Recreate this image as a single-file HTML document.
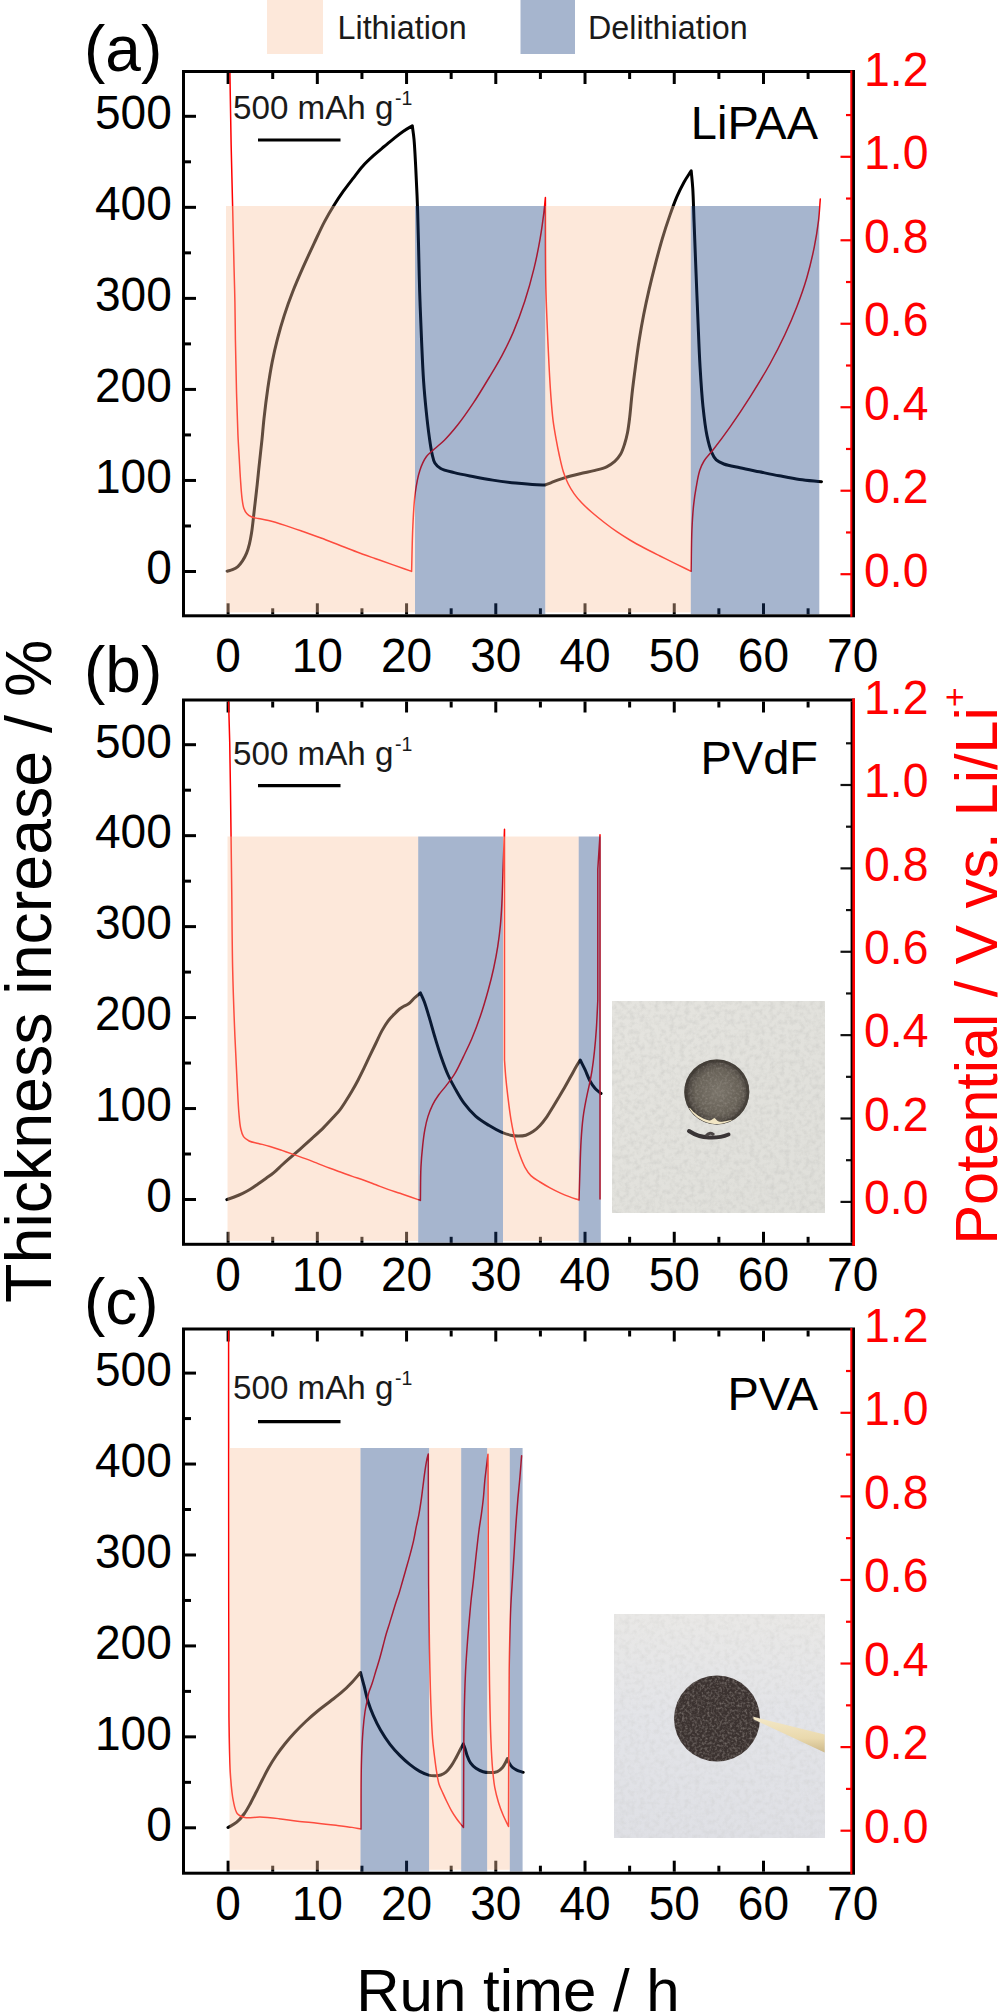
<!DOCTYPE html>
<html><head><meta charset="utf-8"><style>
html,body{margin:0;padding:0;background:#fff;}
svg{display:block;}
text{font-family:"Liberation Sans", sans-serif;}
</style></head><body>
<svg width="1000" height="2014" viewBox="0 0 1000 2014">
<g font-family='"Liberation Sans", sans-serif'>
<rect width="1000" height="2014" fill="#fff"/>
<rect x="267" y="0" width="56" height="54" fill="rgb(250,195,160)" fill-opacity="0.39"/>
<rect x="520.5" y="0" width="54.5" height="54" fill="rgb(26,64,128)" fill-opacity="0.39"/>
<text x="337.5" y="38.7" font-size="32.3" fill="#1a1a1a" text-anchor="start" >Lithiation</text>
<text x="588" y="38.7" font-size="32.3" fill="#1a1a1a" text-anchor="start" >Delithiation</text>
<g id="panel-a">
<line x1="228.1" y1="614.3" x2="228.1" y2="603.3" stroke="#000" stroke-width="3" stroke-linecap="butt"/>
<line x1="228.1" y1="73" x2="228.1" y2="84" stroke="#000" stroke-width="3" stroke-linecap="butt"/>
<line x1="272.71" y1="614.3" x2="272.71" y2="608.3" stroke="#000" stroke-width="3" stroke-linecap="butt"/>
<line x1="272.71" y1="73" x2="272.71" y2="79" stroke="#000" stroke-width="3" stroke-linecap="butt"/>
<line x1="317.33" y1="614.3" x2="317.33" y2="603.3" stroke="#000" stroke-width="3" stroke-linecap="butt"/>
<line x1="317.33" y1="73" x2="317.33" y2="84" stroke="#000" stroke-width="3" stroke-linecap="butt"/>
<line x1="361.94" y1="614.3" x2="361.94" y2="608.3" stroke="#000" stroke-width="3" stroke-linecap="butt"/>
<line x1="361.94" y1="73" x2="361.94" y2="79" stroke="#000" stroke-width="3" stroke-linecap="butt"/>
<line x1="406.56" y1="614.3" x2="406.56" y2="603.3" stroke="#000" stroke-width="3" stroke-linecap="butt"/>
<line x1="406.56" y1="73" x2="406.56" y2="84" stroke="#000" stroke-width="3" stroke-linecap="butt"/>
<line x1="451.17" y1="614.3" x2="451.17" y2="608.3" stroke="#000" stroke-width="3" stroke-linecap="butt"/>
<line x1="451.17" y1="73" x2="451.17" y2="79" stroke="#000" stroke-width="3" stroke-linecap="butt"/>
<line x1="495.79" y1="614.3" x2="495.79" y2="603.3" stroke="#000" stroke-width="3" stroke-linecap="butt"/>
<line x1="495.79" y1="73" x2="495.79" y2="84" stroke="#000" stroke-width="3" stroke-linecap="butt"/>
<line x1="540.4" y1="614.3" x2="540.4" y2="608.3" stroke="#000" stroke-width="3" stroke-linecap="butt"/>
<line x1="540.4" y1="73" x2="540.4" y2="79" stroke="#000" stroke-width="3" stroke-linecap="butt"/>
<line x1="585.02" y1="614.3" x2="585.02" y2="603.3" stroke="#000" stroke-width="3" stroke-linecap="butt"/>
<line x1="585.02" y1="73" x2="585.02" y2="84" stroke="#000" stroke-width="3" stroke-linecap="butt"/>
<line x1="629.63" y1="614.3" x2="629.63" y2="608.3" stroke="#000" stroke-width="3" stroke-linecap="butt"/>
<line x1="629.63" y1="73" x2="629.63" y2="79" stroke="#000" stroke-width="3" stroke-linecap="butt"/>
<line x1="674.25" y1="614.3" x2="674.25" y2="603.3" stroke="#000" stroke-width="3" stroke-linecap="butt"/>
<line x1="674.25" y1="73" x2="674.25" y2="84" stroke="#000" stroke-width="3" stroke-linecap="butt"/>
<line x1="718.87" y1="614.3" x2="718.87" y2="608.3" stroke="#000" stroke-width="3" stroke-linecap="butt"/>
<line x1="718.87" y1="73" x2="718.87" y2="79" stroke="#000" stroke-width="3" stroke-linecap="butt"/>
<line x1="763.48" y1="614.3" x2="763.48" y2="603.3" stroke="#000" stroke-width="3" stroke-linecap="butt"/>
<line x1="763.48" y1="73" x2="763.48" y2="84" stroke="#000" stroke-width="3" stroke-linecap="butt"/>
<line x1="808.1" y1="614.3" x2="808.1" y2="608.3" stroke="#000" stroke-width="3" stroke-linecap="butt"/>
<line x1="808.1" y1="73" x2="808.1" y2="79" stroke="#000" stroke-width="3" stroke-linecap="butt"/>
<line x1="185" y1="571.5" x2="196" y2="571.5" stroke="#000" stroke-width="3" stroke-linecap="butt"/>
<line x1="185" y1="525.98" x2="191" y2="525.98" stroke="#000" stroke-width="3" stroke-linecap="butt"/>
<line x1="185" y1="480.46" x2="196" y2="480.46" stroke="#000" stroke-width="3" stroke-linecap="butt"/>
<line x1="185" y1="434.94" x2="191" y2="434.94" stroke="#000" stroke-width="3" stroke-linecap="butt"/>
<line x1="185" y1="389.42" x2="196" y2="389.42" stroke="#000" stroke-width="3" stroke-linecap="butt"/>
<line x1="185" y1="343.9" x2="191" y2="343.9" stroke="#000" stroke-width="3" stroke-linecap="butt"/>
<line x1="185" y1="298.38" x2="196" y2="298.38" stroke="#000" stroke-width="3" stroke-linecap="butt"/>
<line x1="185" y1="252.86" x2="191" y2="252.86" stroke="#000" stroke-width="3" stroke-linecap="butt"/>
<line x1="185" y1="207.34" x2="196" y2="207.34" stroke="#000" stroke-width="3" stroke-linecap="butt"/>
<line x1="185" y1="161.82" x2="191" y2="161.82" stroke="#000" stroke-width="3" stroke-linecap="butt"/>
<line x1="185" y1="116.3" x2="196" y2="116.3" stroke="#000" stroke-width="3" stroke-linecap="butt"/>
<line x1="851.5" y1="574.2" x2="840.5" y2="574.2" stroke="#ff0000" stroke-width="2.2" stroke-linecap="butt"/>
<line x1="851.5" y1="532.46" x2="846" y2="532.46" stroke="#ff0000" stroke-width="2.2" stroke-linecap="butt"/>
<line x1="851.5" y1="490.72" x2="840.5" y2="490.72" stroke="#ff0000" stroke-width="2.2" stroke-linecap="butt"/>
<line x1="851.5" y1="448.98" x2="846" y2="448.98" stroke="#ff0000" stroke-width="2.2" stroke-linecap="butt"/>
<line x1="851.5" y1="407.24" x2="840.5" y2="407.24" stroke="#ff0000" stroke-width="2.2" stroke-linecap="butt"/>
<line x1="851.5" y1="365.5" x2="846" y2="365.5" stroke="#ff0000" stroke-width="2.2" stroke-linecap="butt"/>
<line x1="851.5" y1="323.76" x2="840.5" y2="323.76" stroke="#ff0000" stroke-width="2.2" stroke-linecap="butt"/>
<line x1="851.5" y1="282.02" x2="846" y2="282.02" stroke="#ff0000" stroke-width="2.2" stroke-linecap="butt"/>
<line x1="851.5" y1="240.28" x2="840.5" y2="240.28" stroke="#ff0000" stroke-width="2.2" stroke-linecap="butt"/>
<line x1="851.5" y1="198.54" x2="846" y2="198.54" stroke="#ff0000" stroke-width="2.2" stroke-linecap="butt"/>
<line x1="851.5" y1="156.8" x2="840.5" y2="156.8" stroke="#ff0000" stroke-width="2.2" stroke-linecap="butt"/>
<line x1="851.5" y1="115.06" x2="846" y2="115.06" stroke="#ff0000" stroke-width="2.2" stroke-linecap="butt"/>
<path d="M227.2,571.2 C228.96,570.71 230.75,570.45 232.47,569.72 C234.31,568.94 236.23,567.97 237.86,566.57 C239.66,565.03 241.23,562.82 242.66,560.66 C244.16,558.38 245.48,555.87 246.59,553.18 C247.78,550.3 248.65,547.11 249.46,543.86 C250.32,540.41 250.93,536.81 251.53,533.04 C252.18,528.97 252.65,524.48 253.15,520.28 C253.63,516.19 254.05,512.15 254.5,508.17 C254.94,504.32 255.37,500.69 255.82,496.79 C256.29,492.68 256.76,488.55 257.24,484.13 C257.75,479.3 258.27,473.98 258.8,468.94 C259.32,463.95 259.86,458.97 260.4,454.06 C260.93,449.23 261.44,444.95 261.98,439.71 C262.64,433.34 263.14,426.21 263.99,418.55 C265,409.4 266.37,398.17 267.78,388.49 C269.11,379.39 270.49,370.57 272.16,362.09 C273.72,354.14 275.41,346.78 277.4,339.1 C279.42,331.28 281.67,323.42 284.2,315.6 C286.76,307.65 289.61,299.71 292.7,291.8 C295.84,283.75 299.35,275.75 302.9,267.7 C306.51,259.52 310.48,251.01 314.2,243.09 C317.69,235.67 321.04,228.2 324.54,221.59 C327.66,215.71 330.77,210.47 334.02,205.26 C337.11,200.29 340.28,195.57 343.54,190.98 C346.71,186.52 350.06,182.26 353.3,178.06 C356.44,173.99 359.31,169.92 362.69,166.16 C366.1,162.37 370.02,158.79 373.7,155.44 C377.19,152.26 380.74,149.4 384.2,146.5 C387.54,143.7 390.86,140.88 394.1,138.3 C397.14,135.88 399.99,133.55 403.06,131.44 C406.06,129.39 409.22,127.68 412.3,125.8 L412.3,125.8 C412.87,130.22 413.5,133.81 414,139.07 C414.73,146.77 415.2,157.41 415.74,167.56 C416.35,179.19 416.96,192.36 417.42,205.03 C417.9,218.05 418.16,230.87 418.52,244.66 C418.91,259.72 419.18,276.21 419.68,291.92 C420.17,307.54 420.81,323.49 421.48,338.67 C422.12,353.08 422.68,367.83 423.57,380.81 C424.34,391.96 425.3,402.16 426.3,411.9 C427.19,420.55 428.15,428.94 429.2,436.37 C430.08,442.62 430.89,448.75 432.01,453.59 C432.85,457.22 433.28,460.41 434.85,462.96 C436.27,465.26 438.1,466.98 440.67,468.47 C444.08,470.46 449.34,471.34 454.24,472.6 C459.9,474.05 466.42,475.25 472.72,476.48 C479.26,477.77 485.85,479.07 492.76,480.14 C500.13,481.28 508.16,482.26 515.65,483.04 C522.85,483.8 531.47,484.53 536.88,484.81 C540.22,484.99 542.29,484.94 545,485 L545,485 C547.11,484.18 548.83,483.47 551.32,482.53 C554.86,481.21 559.72,479.3 564.28,477.88 C569.24,476.34 574.79,475 580,473.74 C585.09,472.51 590.48,471.65 595.16,470.4 C599.28,469.3 603.24,468.39 606.64,466.78 C609.7,465.33 612.44,463.57 614.78,461.46 C617.05,459.41 618.93,457.09 620.52,454.36 C622.28,451.35 623.45,447.58 624.61,444 C625.8,440.31 626.71,436.61 627.53,432.52 C628.44,427.92 628.98,423.23 629.65,417.69 C630.51,410.68 631.12,402.01 632.04,393.83 C633.02,385.14 634.21,375.93 635.4,367 C636.58,358.09 637.76,349.1 639.16,340.31 C640.52,331.7 642,323.26 643.66,314.8 C645.31,306.36 647.12,298.01 649.06,289.6 C651.02,281.11 653.14,272.59 655.36,264.08 C657.59,255.51 659.94,246.58 662.4,238.34 C664.7,230.64 667.12,223.22 669.6,216.12 C671.93,209.46 674.25,202.86 676.8,196.94 C679.08,191.66 681.47,186.76 684,182.23 C686.3,178.11 688.8,174.61 691.2,170.8 L691.2,170.8 C691.73,176.73 692.34,181.71 692.78,188.59 C693.38,198.04 693.6,210.14 694.08,222.31 C694.63,236.68 695.27,253.43 695.9,269.32 C696.55,285.65 697.2,302.58 697.9,318.98 C698.59,335.09 699.15,351.66 700.06,366.87 C700.88,380.72 701.71,394.37 702.99,406.55 C704.09,417.01 705.25,427.3 706.97,435.6 C708.3,442 709.76,447.94 711.66,452.34 C713.02,455.48 714.2,458.01 716.26,459.96 C718.28,461.87 720.75,462.82 723.84,463.99 C728.12,465.61 734.3,466.57 739.93,467.82 C746.11,469.18 752.89,470.48 759.42,471.8 C766.01,473.14 772.62,474.53 779.28,475.8 C786,477.08 792.65,478.46 799.56,479.43 C806.71,480.44 814.19,480.94 821.5,481.7" fill="none" stroke="#000" stroke-width="3" stroke-linejoin="round" stroke-linecap="round" />
<path d="M229.9,72 C230.31,96.04 230.64,120.63 231.12,144.12 C231.58,166.57 232.21,188.77 232.71,209.97 C233.18,229.75 233.63,250.57 234.03,267.35 C234.35,280.45 234.69,290.51 234.91,302.34 C235.15,314.52 235.24,327.05 235.4,339.4 L235.4,339.4 C235.79,357.53 236.11,376.91 236.57,393.8 C236.97,408.51 237.43,423.44 237.95,435.1 C238.33,443.67 238.78,450 239.2,457.4 C239.62,464.73 239.98,472.29 240.47,479.3 C240.92,485.79 241.31,492.77 242,498.04 C242.51,501.94 242.85,505.36 243.83,508.13 C244.58,510.28 245.46,512.04 246.75,513.5 C247.98,514.9 249.53,515.96 251.31,516.79 C253.32,517.72 255.75,517.98 258.31,518.55 C261.4,519.23 264.78,519.61 268.57,520.54 C273.43,521.72 279.42,523.59 285,525.36 C290.88,527.22 297.01,529.4 303,531.5 C309.01,533.6 315.02,535.71 321,537.96 C327.02,540.21 333,542.65 339,545 C345,547.35 350.98,549.79 357,552.04 C362.98,554.29 368.99,556.37 375,558.5 C381.02,560.64 387.04,562.71 393.11,564.85 C399.24,567.01 405.44,569.22 411.6,571.4 L411.6,571.4 C412.02,556.25 412.17,539.86 412.86,525.96 C413.44,514.16 413.84,503.15 415.19,493.26 C416.33,484.92 417.65,476.95 419.85,470.4 C421.63,465.08 423.76,460.27 426.46,456.55 C428.73,453.41 431.53,451.62 434.35,449.05 C437.47,446.2 440.93,443.72 444.38,440.25 C448.63,436 453.17,430.71 457.62,425.09 C462.72,418.62 467.99,411.08 473.07,403.45 C478.51,395.28 484.18,385.8 489.17,377.5 C493.69,369.97 497.81,363.29 501.8,355.8 C505.9,348.09 509.75,340.41 513.4,331.87 C517.42,322.46 521.27,311.99 524.67,301.6 C528.17,290.87 531.39,279.26 534.02,268.43 C536.5,258.22 538.49,248.08 540.17,238.4 C541.72,229.44 542.98,219.87 543.89,212.39 C544.58,206.75 544.9,202.46 545.4,197.5 L545.4,197.5 C545.56,227.34 545.31,259.95 545.89,287.01 C546.38,309.49 547.32,329.46 548.22,348.7 C549.01,365.63 549.92,383.22 550.89,396.41 C551.58,405.76 552.13,412.94 553.06,420.37 C553.88,426.89 554.93,432.68 556,438.64 C557.03,444.38 558.11,449.94 559.34,455.48 C560.56,460.95 561.75,466.73 563.34,471.68 C564.74,476.04 566.29,479.97 568.14,483.72 C569.88,487.25 571.78,490.43 574.02,493.6 C576.34,496.88 579.01,500.01 581.88,503.06 C584.89,506.25 588.24,509.2 591.76,512.28 C595.57,515.6 599.84,519.03 604,522.26 C608.18,525.51 612.46,528.75 616.8,531.72 C621.08,534.65 625.38,537.33 629.88,540 C634.53,542.76 639.35,545.38 644.28,548 C649.38,550.71 654.74,553.36 660,556 C665.26,558.65 670.61,561.3 675.84,563.88 C680.97,566.4 686.01,568.83 691.1,571.3 L691.1,571.3 C691.38,557.43 691.39,541.84 691.93,529.68 C692.35,520.18 692.86,512 693.69,504.32 C694.38,497.88 695.24,492.4 696.28,486.64 C697.29,481.07 698.28,474.88 699.79,470.29 C700.95,466.76 701.98,464.32 703.88,461.24 C706.22,457.44 709.8,454.12 713.34,449.55 C718.16,443.32 724.28,435.17 729.97,427.09 C736.4,417.93 743.31,407.61 749.83,397.33 C756.64,386.61 763.89,374.85 769.92,364 C775.45,354.04 780.3,344.49 784.85,334.8 C789.21,325.5 793.12,316.43 796.75,307.02 C800.39,297.57 803.77,288.1 806.67,278.23 C809.65,268.08 812.28,256.93 814.3,246.9 C816.14,237.78 817.52,228.94 818.53,220.57 C819.44,213.02 819.71,206.13 820.3,198.9" fill="none" stroke="#ff0000" stroke-width="1.5" stroke-linejoin="round" stroke-linecap="round" />
<rect x="226" y="206" width="189" height="406.4" fill="rgb(250,195,160)" fill-opacity="0.39"/>
<rect x="415" y="206" width="130.3" height="408.2" fill="rgb(26,64,128)" fill-opacity="0.39"/>
<rect x="545.3" y="206" width="145.5" height="406.4" fill="rgb(250,195,160)" fill-opacity="0.39"/>
<rect x="690.8" y="206" width="128.5" height="408.2" fill="rgb(26,64,128)" fill-opacity="0.39"/>
<rect x="183.5" y="71.5" width="670" height="544.3" fill="none" stroke="#000" stroke-width="3"/>
<line x1="851.3" y1="70.5" x2="851.3" y2="616.8" stroke="#ff0000" stroke-width="2" stroke-linecap="butt"/>
<text transform="translate(171.8,584.3) scale(0.97,1)" font-size="47.5" fill="#000" text-anchor="end" >0</text>
<text transform="translate(171.8,493.26) scale(0.97,1)" font-size="47.5" fill="#000" text-anchor="end" >100</text>
<text transform="translate(171.8,402.22) scale(0.97,1)" font-size="47.5" fill="#000" text-anchor="end" >200</text>
<text transform="translate(171.8,311.18) scale(0.97,1)" font-size="47.5" fill="#000" text-anchor="end" >300</text>
<text transform="translate(171.8,220.14) scale(0.97,1)" font-size="47.5" fill="#000" text-anchor="end" >400</text>
<text transform="translate(171.8,129.1) scale(0.97,1)" font-size="47.5" fill="#000" text-anchor="end" >500</text>
<text transform="translate(228.1,672) scale(0.97,1)" font-size="47.5" fill="#000" text-anchor="middle" >0</text>
<text transform="translate(317.33,672) scale(0.97,1)" font-size="47.5" fill="#000" text-anchor="middle" >10</text>
<text transform="translate(406.56,672) scale(0.97,1)" font-size="47.5" fill="#000" text-anchor="middle" >20</text>
<text transform="translate(495.79,672) scale(0.97,1)" font-size="47.5" fill="#000" text-anchor="middle" >30</text>
<text transform="translate(585.02,672) scale(0.97,1)" font-size="47.5" fill="#000" text-anchor="middle" >40</text>
<text transform="translate(674.25,672) scale(0.97,1)" font-size="47.5" fill="#000" text-anchor="middle" >50</text>
<text transform="translate(763.48,672) scale(0.97,1)" font-size="47.5" fill="#000" text-anchor="middle" >60</text>
<text transform="translate(852.71,672) scale(0.97,1)" font-size="47.5" fill="#000" text-anchor="middle" >70</text>
<text transform="translate(864,586.5) scale(0.955,1)" font-size="48.6" fill="#ff0000" text-anchor="start" >0.0</text>
<text transform="translate(864,503.02) scale(0.955,1)" font-size="48.6" fill="#ff0000" text-anchor="start" >0.2</text>
<text transform="translate(864,419.54) scale(0.955,1)" font-size="48.6" fill="#ff0000" text-anchor="start" >0.4</text>
<text transform="translate(864,336.06) scale(0.955,1)" font-size="48.6" fill="#ff0000" text-anchor="start" >0.6</text>
<text transform="translate(864,252.58) scale(0.955,1)" font-size="48.6" fill="#ff0000" text-anchor="start" >0.8</text>
<text transform="translate(864,169.1) scale(0.955,1)" font-size="48.6" fill="#ff0000" text-anchor="start" >1.0</text>
<text transform="translate(864,85.62) scale(0.955,1)" font-size="48.6" fill="#ff0000" text-anchor="start" >1.2</text>
<text x="84" y="71" font-size="64" fill="#000" text-anchor="start" >(a)</text>
</g>
<g id="panel-b">
<line x1="228.1" y1="1242.8" x2="228.1" y2="1231.8" stroke="#000" stroke-width="3" stroke-linecap="butt"/>
<line x1="228.1" y1="701.5" x2="228.1" y2="712.5" stroke="#000" stroke-width="3" stroke-linecap="butt"/>
<line x1="272.71" y1="1242.8" x2="272.71" y2="1236.8" stroke="#000" stroke-width="3" stroke-linecap="butt"/>
<line x1="272.71" y1="701.5" x2="272.71" y2="707.5" stroke="#000" stroke-width="3" stroke-linecap="butt"/>
<line x1="317.33" y1="1242.8" x2="317.33" y2="1231.8" stroke="#000" stroke-width="3" stroke-linecap="butt"/>
<line x1="317.33" y1="701.5" x2="317.33" y2="712.5" stroke="#000" stroke-width="3" stroke-linecap="butt"/>
<line x1="361.94" y1="1242.8" x2="361.94" y2="1236.8" stroke="#000" stroke-width="3" stroke-linecap="butt"/>
<line x1="361.94" y1="701.5" x2="361.94" y2="707.5" stroke="#000" stroke-width="3" stroke-linecap="butt"/>
<line x1="406.56" y1="1242.8" x2="406.56" y2="1231.8" stroke="#000" stroke-width="3" stroke-linecap="butt"/>
<line x1="406.56" y1="701.5" x2="406.56" y2="712.5" stroke="#000" stroke-width="3" stroke-linecap="butt"/>
<line x1="451.17" y1="1242.8" x2="451.17" y2="1236.8" stroke="#000" stroke-width="3" stroke-linecap="butt"/>
<line x1="451.17" y1="701.5" x2="451.17" y2="707.5" stroke="#000" stroke-width="3" stroke-linecap="butt"/>
<line x1="495.79" y1="1242.8" x2="495.79" y2="1231.8" stroke="#000" stroke-width="3" stroke-linecap="butt"/>
<line x1="495.79" y1="701.5" x2="495.79" y2="712.5" stroke="#000" stroke-width="3" stroke-linecap="butt"/>
<line x1="540.4" y1="1242.8" x2="540.4" y2="1236.8" stroke="#000" stroke-width="3" stroke-linecap="butt"/>
<line x1="540.4" y1="701.5" x2="540.4" y2="707.5" stroke="#000" stroke-width="3" stroke-linecap="butt"/>
<line x1="585.02" y1="1242.8" x2="585.02" y2="1231.8" stroke="#000" stroke-width="3" stroke-linecap="butt"/>
<line x1="585.02" y1="701.5" x2="585.02" y2="712.5" stroke="#000" stroke-width="3" stroke-linecap="butt"/>
<line x1="629.63" y1="1242.8" x2="629.63" y2="1236.8" stroke="#000" stroke-width="3" stroke-linecap="butt"/>
<line x1="629.63" y1="701.5" x2="629.63" y2="707.5" stroke="#000" stroke-width="3" stroke-linecap="butt"/>
<line x1="674.25" y1="1242.8" x2="674.25" y2="1231.8" stroke="#000" stroke-width="3" stroke-linecap="butt"/>
<line x1="674.25" y1="701.5" x2="674.25" y2="712.5" stroke="#000" stroke-width="3" stroke-linecap="butt"/>
<line x1="718.87" y1="1242.8" x2="718.87" y2="1236.8" stroke="#000" stroke-width="3" stroke-linecap="butt"/>
<line x1="718.87" y1="701.5" x2="718.87" y2="707.5" stroke="#000" stroke-width="3" stroke-linecap="butt"/>
<line x1="763.48" y1="1242.8" x2="763.48" y2="1231.8" stroke="#000" stroke-width="3" stroke-linecap="butt"/>
<line x1="763.48" y1="701.5" x2="763.48" y2="712.5" stroke="#000" stroke-width="3" stroke-linecap="butt"/>
<line x1="808.1" y1="1242.8" x2="808.1" y2="1236.8" stroke="#000" stroke-width="3" stroke-linecap="butt"/>
<line x1="808.1" y1="701.5" x2="808.1" y2="707.5" stroke="#000" stroke-width="3" stroke-linecap="butt"/>
<line x1="185" y1="1199.5" x2="196" y2="1199.5" stroke="#000" stroke-width="3" stroke-linecap="butt"/>
<line x1="185" y1="1154.02" x2="191" y2="1154.02" stroke="#000" stroke-width="3" stroke-linecap="butt"/>
<line x1="185" y1="1108.54" x2="196" y2="1108.54" stroke="#000" stroke-width="3" stroke-linecap="butt"/>
<line x1="185" y1="1063.06" x2="191" y2="1063.06" stroke="#000" stroke-width="3" stroke-linecap="butt"/>
<line x1="185" y1="1017.58" x2="196" y2="1017.58" stroke="#000" stroke-width="3" stroke-linecap="butt"/>
<line x1="185" y1="972.1" x2="191" y2="972.1" stroke="#000" stroke-width="3" stroke-linecap="butt"/>
<line x1="185" y1="926.62" x2="196" y2="926.62" stroke="#000" stroke-width="3" stroke-linecap="butt"/>
<line x1="185" y1="881.14" x2="191" y2="881.14" stroke="#000" stroke-width="3" stroke-linecap="butt"/>
<line x1="185" y1="835.66" x2="196" y2="835.66" stroke="#000" stroke-width="3" stroke-linecap="butt"/>
<line x1="185" y1="790.18" x2="191" y2="790.18" stroke="#000" stroke-width="3" stroke-linecap="butt"/>
<line x1="185" y1="744.7" x2="196" y2="744.7" stroke="#000" stroke-width="3" stroke-linecap="butt"/>
<line x1="851.5" y1="1201.9" x2="840.5" y2="1201.9" stroke="#111" stroke-width="2.2" stroke-linecap="butt"/>
<line x1="851.5" y1="1160.21" x2="846" y2="1160.21" stroke="#111" stroke-width="2.2" stroke-linecap="butt"/>
<line x1="851.5" y1="1118.52" x2="840.5" y2="1118.52" stroke="#111" stroke-width="2.2" stroke-linecap="butt"/>
<line x1="851.5" y1="1076.83" x2="846" y2="1076.83" stroke="#111" stroke-width="2.2" stroke-linecap="butt"/>
<line x1="851.5" y1="1035.14" x2="840.5" y2="1035.14" stroke="#111" stroke-width="2.2" stroke-linecap="butt"/>
<line x1="851.5" y1="993.45" x2="846" y2="993.45" stroke="#111" stroke-width="2.2" stroke-linecap="butt"/>
<line x1="851.5" y1="951.76" x2="840.5" y2="951.76" stroke="#111" stroke-width="2.2" stroke-linecap="butt"/>
<line x1="851.5" y1="910.07" x2="846" y2="910.07" stroke="#111" stroke-width="2.2" stroke-linecap="butt"/>
<line x1="851.5" y1="868.38" x2="840.5" y2="868.38" stroke="#111" stroke-width="2.2" stroke-linecap="butt"/>
<line x1="851.5" y1="826.69" x2="846" y2="826.69" stroke="#111" stroke-width="2.2" stroke-linecap="butt"/>
<line x1="851.5" y1="785" x2="840.5" y2="785" stroke="#111" stroke-width="2.2" stroke-linecap="butt"/>
<line x1="851.5" y1="743.31" x2="846" y2="743.31" stroke="#111" stroke-width="2.2" stroke-linecap="butt"/>
<path d="M226.8,1199.6 C229.27,1198.73 231.71,1197.96 234.21,1196.99 C236.84,1195.97 239.59,1194.84 242.19,1193.6 C244.79,1192.37 247.27,1191.11 249.81,1189.58 C252.54,1187.94 255.28,1185.89 258,1184 C260.74,1182.1 263.52,1180.14 266.19,1178.21 C268.79,1176.33 271.28,1174.66 273.81,1172.57 C276.55,1170.3 279.22,1167.52 282,1165.01 C284.82,1162.46 287.64,1160 290.61,1157.39 C293.77,1154.6 297.02,1151.79 300.42,1148.78 C304.13,1145.49 308.16,1141.91 312,1138.4 C315.88,1134.85 319.97,1131.19 323.58,1127.6 C326.95,1124.25 330.16,1120.72 333.04,1117.57 C335.54,1114.84 337.79,1112.6 339.93,1109.84 C342.12,1107.01 344.01,1103.9 346,1100.8 C348.04,1097.62 350.03,1094.36 352,1090.99 C354.04,1087.5 356.04,1083.91 358,1080.19 C360.04,1076.32 362.02,1072.27 364,1068.19 C366.03,1064.01 367.99,1059.63 370,1055.41 C371.99,1051.23 374,1047.12 376,1042.99 C378,1038.86 379.89,1034.44 382,1030.63 C383.91,1027.17 385.87,1023.85 388,1021.03 C389.9,1018.52 392,1016.46 394,1014.4 C395.86,1012.48 397.79,1010.47 399.58,1009.03 C401.03,1007.86 402.33,1007.08 403.81,1006.21 C405.34,1005.31 407.02,1004.9 408.61,1003.75 C410.56,1002.34 412.42,999.86 414.4,998.02 C416.35,996.21 418.4,994.54 420.4,992.8 L420.4,992.8 C421.67,995.69 422.96,998.14 424.21,1001.47 C425.84,1005.79 427.37,1011.22 429.01,1016.65 C430.89,1022.88 432.79,1030.12 434.8,1036.78 C436.79,1043.39 438.78,1050.06 441.01,1056.47 C443.18,1062.71 445.45,1069.11 447.96,1074.74 C450.23,1079.82 452.61,1084.19 455.25,1088.87 C457.95,1093.69 460.66,1098.71 464.01,1103.22 C467.42,1107.8 471.36,1112.39 475.58,1116.12 C479.65,1119.72 484.37,1122.6 488.8,1125.33 C492.98,1127.9 497.48,1130.42 501.41,1132.12 C504.62,1133.52 507.58,1134.54 510.51,1135.18 C513.13,1135.76 515.58,1136 518.12,1136.01 C520.68,1136.01 523.37,1135.92 525.83,1135.2 C528.33,1134.47 530.72,1133.15 533,1131.62 C535.46,1129.96 537.78,1127.81 540,1125.47 C542.41,1122.93 544.68,1119.86 546.83,1116.83 C549.02,1113.71 550.97,1110.3 553,1107 C555.03,1103.69 557.01,1100.35 559,1097 C561.01,1093.63 563.02,1090.28 565,1086.83 C567.02,1083.29 569.04,1079.53 571,1076 C572.88,1072.61 574.83,1068.94 576.51,1066.05 C577.84,1063.77 578.97,1062.02 580.2,1060 L580.2,1060 C581.81,1063.23 583.45,1066.33 585.03,1069.7 C586.72,1073.29 588.16,1077.64 590,1080.95 C591.59,1083.82 593.24,1086.41 595.17,1088.56 C596.94,1090.53 599.06,1091.85 601,1093.5" fill="none" stroke="#000" stroke-width="3" stroke-linejoin="round" stroke-linecap="round" />
<path d="M228.5,700.3 C228.91,714.28 229.36,725.91 229.72,742.25 C230.22,765.19 230.56,798.83 230.91,825 C231.23,848.61 231.47,869.13 231.75,892.37 C232.05,917.28 232.1,944.99 232.67,969.8 C233.19,992.78 234.06,1015.69 234.9,1036.14 C235.62,1053.74 236.52,1071.21 237.27,1085.24 C237.83,1095.76 238.2,1104.96 238.89,1112.86 C239.41,1118.83 239.72,1124.2 240.71,1128.53 C241.44,1131.73 241.99,1134.55 243.53,1136.68 C244.91,1138.6 246.9,1139.89 249.13,1140.98 C251.74,1142.25 255.15,1142.56 258.42,1143.41 C262.07,1144.36 266.13,1145.27 270,1146.41 C273.98,1147.59 278.01,1149.04 282,1150.4 C286.01,1151.77 290,1153.18 294,1154.6 C298,1156.02 302.01,1157.41 306,1158.9 C310.01,1160.41 314,1162.03 318,1163.6 C322,1165.16 326.02,1166.79 330,1168.3 C333.9,1169.77 337.85,1171.16 341.65,1172.53 C345.29,1173.84 348.7,1175.11 352.35,1176.37 C356.14,1177.67 360.1,1178.82 364,1180.21 C367.99,1181.63 372,1183.27 376,1184.8 C380,1186.33 383.98,1187.97 388,1189.39 C391.98,1190.8 396.06,1191.99 400,1193.31 C403.85,1194.59 407.8,1195.95 411.37,1197.19 C414.56,1198.3 417.39,1199.33 420.4,1200.4 L420.4,1200.4 C420.58,1189.31 420.47,1177.08 420.95,1167.13 C421.34,1159.01 422.01,1151.72 422.73,1145.05 C423.33,1139.49 423.91,1134.69 424.81,1129.81 C425.66,1125.23 426.58,1120.84 427.91,1116.61 C429.2,1112.52 430.77,1108.5 432.61,1104.82 C434.36,1101.32 436.4,1098.15 438.61,1095.01 C440.85,1091.83 443.46,1089.16 445.99,1085.86 C448.84,1082.12 452.07,1078.19 454.82,1073.66 C457.93,1068.56 460.6,1062.39 463.42,1056.6 C466.29,1050.68 469.18,1044.91 471.88,1038.53 C474.83,1031.55 477.68,1024.06 480.32,1016.31 C483.14,1008.02 485.89,998.62 488.19,990.27 C490.29,982.64 492.06,975.56 493.66,968.22 C495.23,961 496.6,953.76 497.72,946.58 C498.82,939.53 499.68,932.63 500.37,925.51 C501.08,918.23 501.46,911.67 501.88,903.35 C502.43,892.66 502.7,878.92 503.13,866.63 C503.57,854.24 504.05,841.74 504.5,829.3 L504.5,829.3 L504.5,1060 L504.5,1060 C504.9,1065.55 505.2,1071.02 505.71,1076.65 C506.23,1082.46 506.83,1087.94 507.6,1094.35 C508.52,1101.97 509.58,1111.34 510.94,1119.39 C512.23,1126.96 513.74,1134.8 515.45,1141.32 C516.85,1146.7 518.4,1151.31 520.09,1155.82 C521.61,1159.91 523.09,1163.87 525,1167.3 C526.73,1170.4 528.45,1173.24 530.88,1175.65 C533.41,1178.17 536.85,1179.99 540,1182 C543.22,1184.05 546.64,1186.01 550,1187.83 C553.31,1189.61 556.65,1191.31 560,1192.83 C563.26,1194.3 566.59,1195.61 569.83,1196.83 C572.92,1197.99 575.94,1198.94 579,1200 L579,1200 C579.22,1192.96 579.4,1186.95 579.67,1178.88 C580.05,1168 580.41,1151.67 581.09,1140.6 C581.61,1132.09 582.22,1124.48 583,1118.05 C583.59,1113.2 584.28,1109.38 585,1105.35 C585.65,1101.67 586.35,1098.37 587.09,1094.83 C587.85,1091.2 588.72,1087.67 589.5,1083.83 C590.36,1079.63 591.24,1075.42 592,1070.6 C592.91,1064.86 593.71,1058.28 594.41,1051.65 C595.19,1044.35 595.83,1036.7 596.38,1028.6 C596.99,1019.59 597.33,1009.53 597.8,1000 L597.8,1000 L597.8,869 L597.8,869 L600,834.7 L600,834.7 L600,1199" fill="none" stroke="#ff0000" stroke-width="1.5" stroke-linejoin="round" stroke-linecap="round" />
<rect x="227.5" y="836.5" width="190.7" height="404.4" fill="rgb(250,195,160)" fill-opacity="0.39"/>
<rect x="418.2" y="836.5" width="84.8" height="406.2" fill="rgb(26,64,128)" fill-opacity="0.39"/>
<rect x="503" y="836.5" width="75.7" height="404.4" fill="rgb(250,195,160)" fill-opacity="0.39"/>
<rect x="578.7" y="836.5" width="22.1" height="406.2" fill="rgb(26,64,128)" fill-opacity="0.39"/>
<rect x="183.5" y="700" width="670" height="544.3" fill="none" stroke="#000" stroke-width="3"/>
<line x1="853.6" y1="698.5" x2="853.6" y2="1245.8" stroke="#ff0000" stroke-width="2.8" stroke-linecap="butt"/>
<line x1="851.4" y1="701.5" x2="851.4" y2="1242.8" stroke="#000" stroke-width="1.6" stroke-linecap="butt"/>
<text transform="translate(171.8,1212.3) scale(0.97,1)" font-size="47.5" fill="#000" text-anchor="end" >0</text>
<text transform="translate(171.8,1121.34) scale(0.97,1)" font-size="47.5" fill="#000" text-anchor="end" >100</text>
<text transform="translate(171.8,1030.38) scale(0.97,1)" font-size="47.5" fill="#000" text-anchor="end" >200</text>
<text transform="translate(171.8,939.42) scale(0.97,1)" font-size="47.5" fill="#000" text-anchor="end" >300</text>
<text transform="translate(171.8,848.46) scale(0.97,1)" font-size="47.5" fill="#000" text-anchor="end" >400</text>
<text transform="translate(171.8,757.5) scale(0.97,1)" font-size="47.5" fill="#000" text-anchor="end" >500</text>
<text transform="translate(228.1,1291) scale(0.97,1)" font-size="47.5" fill="#000" text-anchor="middle" >0</text>
<text transform="translate(317.33,1291) scale(0.97,1)" font-size="47.5" fill="#000" text-anchor="middle" >10</text>
<text transform="translate(406.56,1291) scale(0.97,1)" font-size="47.5" fill="#000" text-anchor="middle" >20</text>
<text transform="translate(495.79,1291) scale(0.97,1)" font-size="47.5" fill="#000" text-anchor="middle" >30</text>
<text transform="translate(585.02,1291) scale(0.97,1)" font-size="47.5" fill="#000" text-anchor="middle" >40</text>
<text transform="translate(674.25,1291) scale(0.97,1)" font-size="47.5" fill="#000" text-anchor="middle" >50</text>
<text transform="translate(763.48,1291) scale(0.97,1)" font-size="47.5" fill="#000" text-anchor="middle" >60</text>
<text transform="translate(852.71,1291) scale(0.97,1)" font-size="47.5" fill="#000" text-anchor="middle" >70</text>
<text transform="translate(864,1214.2) scale(0.955,1)" font-size="48.6" fill="#ff0000" text-anchor="start" >0.0</text>
<text transform="translate(864,1130.82) scale(0.955,1)" font-size="48.6" fill="#ff0000" text-anchor="start" >0.2</text>
<text transform="translate(864,1047.44) scale(0.955,1)" font-size="48.6" fill="#ff0000" text-anchor="start" >0.4</text>
<text transform="translate(864,964.06) scale(0.955,1)" font-size="48.6" fill="#ff0000" text-anchor="start" >0.6</text>
<text transform="translate(864,880.68) scale(0.955,1)" font-size="48.6" fill="#ff0000" text-anchor="start" >0.8</text>
<text transform="translate(864,797.3) scale(0.955,1)" font-size="48.6" fill="#ff0000" text-anchor="start" >1.0</text>
<text transform="translate(864,713.92) scale(0.955,1)" font-size="48.6" fill="#ff0000" text-anchor="start" >1.2</text>
<text x="84" y="692" font-size="64" fill="#000" text-anchor="start" >(b)</text>
</g>
<g id="panel-c">
<line x1="228.1" y1="1871.7" x2="228.1" y2="1860.7" stroke="#000" stroke-width="3" stroke-linecap="butt"/>
<line x1="228.1" y1="1330.5" x2="228.1" y2="1341.5" stroke="#000" stroke-width="3" stroke-linecap="butt"/>
<line x1="272.71" y1="1871.7" x2="272.71" y2="1865.7" stroke="#000" stroke-width="3" stroke-linecap="butt"/>
<line x1="272.71" y1="1330.5" x2="272.71" y2="1336.5" stroke="#000" stroke-width="3" stroke-linecap="butt"/>
<line x1="317.33" y1="1871.7" x2="317.33" y2="1860.7" stroke="#000" stroke-width="3" stroke-linecap="butt"/>
<line x1="317.33" y1="1330.5" x2="317.33" y2="1341.5" stroke="#000" stroke-width="3" stroke-linecap="butt"/>
<line x1="361.94" y1="1871.7" x2="361.94" y2="1865.7" stroke="#000" stroke-width="3" stroke-linecap="butt"/>
<line x1="361.94" y1="1330.5" x2="361.94" y2="1336.5" stroke="#000" stroke-width="3" stroke-linecap="butt"/>
<line x1="406.56" y1="1871.7" x2="406.56" y2="1860.7" stroke="#000" stroke-width="3" stroke-linecap="butt"/>
<line x1="406.56" y1="1330.5" x2="406.56" y2="1341.5" stroke="#000" stroke-width="3" stroke-linecap="butt"/>
<line x1="451.17" y1="1871.7" x2="451.17" y2="1865.7" stroke="#000" stroke-width="3" stroke-linecap="butt"/>
<line x1="451.17" y1="1330.5" x2="451.17" y2="1336.5" stroke="#000" stroke-width="3" stroke-linecap="butt"/>
<line x1="495.79" y1="1871.7" x2="495.79" y2="1860.7" stroke="#000" stroke-width="3" stroke-linecap="butt"/>
<line x1="495.79" y1="1330.5" x2="495.79" y2="1341.5" stroke="#000" stroke-width="3" stroke-linecap="butt"/>
<line x1="540.4" y1="1871.7" x2="540.4" y2="1865.7" stroke="#000" stroke-width="3" stroke-linecap="butt"/>
<line x1="540.4" y1="1330.5" x2="540.4" y2="1336.5" stroke="#000" stroke-width="3" stroke-linecap="butt"/>
<line x1="585.02" y1="1871.7" x2="585.02" y2="1860.7" stroke="#000" stroke-width="3" stroke-linecap="butt"/>
<line x1="585.02" y1="1330.5" x2="585.02" y2="1341.5" stroke="#000" stroke-width="3" stroke-linecap="butt"/>
<line x1="629.63" y1="1871.7" x2="629.63" y2="1865.7" stroke="#000" stroke-width="3" stroke-linecap="butt"/>
<line x1="629.63" y1="1330.5" x2="629.63" y2="1336.5" stroke="#000" stroke-width="3" stroke-linecap="butt"/>
<line x1="674.25" y1="1871.7" x2="674.25" y2="1860.7" stroke="#000" stroke-width="3" stroke-linecap="butt"/>
<line x1="674.25" y1="1330.5" x2="674.25" y2="1341.5" stroke="#000" stroke-width="3" stroke-linecap="butt"/>
<line x1="718.87" y1="1871.7" x2="718.87" y2="1865.7" stroke="#000" stroke-width="3" stroke-linecap="butt"/>
<line x1="718.87" y1="1330.5" x2="718.87" y2="1336.5" stroke="#000" stroke-width="3" stroke-linecap="butt"/>
<line x1="763.48" y1="1871.7" x2="763.48" y2="1860.7" stroke="#000" stroke-width="3" stroke-linecap="butt"/>
<line x1="763.48" y1="1330.5" x2="763.48" y2="1341.5" stroke="#000" stroke-width="3" stroke-linecap="butt"/>
<line x1="808.1" y1="1871.7" x2="808.1" y2="1865.7" stroke="#000" stroke-width="3" stroke-linecap="butt"/>
<line x1="808.1" y1="1330.5" x2="808.1" y2="1336.5" stroke="#000" stroke-width="3" stroke-linecap="butt"/>
<line x1="185" y1="1827.8" x2="196" y2="1827.8" stroke="#000" stroke-width="3" stroke-linecap="butt"/>
<line x1="185" y1="1782.33" x2="191" y2="1782.33" stroke="#000" stroke-width="3" stroke-linecap="butt"/>
<line x1="185" y1="1736.86" x2="196" y2="1736.86" stroke="#000" stroke-width="3" stroke-linecap="butt"/>
<line x1="185" y1="1691.39" x2="191" y2="1691.39" stroke="#000" stroke-width="3" stroke-linecap="butt"/>
<line x1="185" y1="1645.92" x2="196" y2="1645.92" stroke="#000" stroke-width="3" stroke-linecap="butt"/>
<line x1="185" y1="1600.45" x2="191" y2="1600.45" stroke="#000" stroke-width="3" stroke-linecap="butt"/>
<line x1="185" y1="1554.98" x2="196" y2="1554.98" stroke="#000" stroke-width="3" stroke-linecap="butt"/>
<line x1="185" y1="1509.51" x2="191" y2="1509.51" stroke="#000" stroke-width="3" stroke-linecap="butt"/>
<line x1="185" y1="1464.04" x2="196" y2="1464.04" stroke="#000" stroke-width="3" stroke-linecap="butt"/>
<line x1="185" y1="1418.57" x2="191" y2="1418.57" stroke="#000" stroke-width="3" stroke-linecap="butt"/>
<line x1="185" y1="1373.1" x2="196" y2="1373.1" stroke="#000" stroke-width="3" stroke-linecap="butt"/>
<line x1="851.5" y1="1830.7" x2="840.5" y2="1830.7" stroke="#ff0000" stroke-width="2.2" stroke-linecap="butt"/>
<line x1="851.5" y1="1788.91" x2="846" y2="1788.91" stroke="#ff0000" stroke-width="2.2" stroke-linecap="butt"/>
<line x1="851.5" y1="1747.12" x2="840.5" y2="1747.12" stroke="#ff0000" stroke-width="2.2" stroke-linecap="butt"/>
<line x1="851.5" y1="1705.33" x2="846" y2="1705.33" stroke="#ff0000" stroke-width="2.2" stroke-linecap="butt"/>
<line x1="851.5" y1="1663.54" x2="840.5" y2="1663.54" stroke="#ff0000" stroke-width="2.2" stroke-linecap="butt"/>
<line x1="851.5" y1="1621.75" x2="846" y2="1621.75" stroke="#ff0000" stroke-width="2.2" stroke-linecap="butt"/>
<line x1="851.5" y1="1579.96" x2="840.5" y2="1579.96" stroke="#ff0000" stroke-width="2.2" stroke-linecap="butt"/>
<line x1="851.5" y1="1538.17" x2="846" y2="1538.17" stroke="#ff0000" stroke-width="2.2" stroke-linecap="butt"/>
<line x1="851.5" y1="1496.38" x2="840.5" y2="1496.38" stroke="#ff0000" stroke-width="2.2" stroke-linecap="butt"/>
<line x1="851.5" y1="1454.59" x2="846" y2="1454.59" stroke="#ff0000" stroke-width="2.2" stroke-linecap="butt"/>
<line x1="851.5" y1="1412.8" x2="840.5" y2="1412.8" stroke="#ff0000" stroke-width="2.2" stroke-linecap="butt"/>
<line x1="851.5" y1="1371.01" x2="846" y2="1371.01" stroke="#ff0000" stroke-width="2.2" stroke-linecap="butt"/>
<path d="M228,1827.5 C230.91,1825.74 234.09,1824.42 236.74,1822.21 C239.53,1819.88 241.98,1816.83 244.24,1813.74 C246.59,1810.52 248.49,1806.87 250.5,1803.24 C252.59,1799.47 254.51,1795.44 256.5,1791.5 C258.51,1787.53 260.46,1783.49 262.5,1779.5 C264.55,1775.49 266.5,1771.46 268.76,1767.5 C271.08,1763.45 273.58,1759.42 276.26,1755.5 C278.99,1751.51 281.95,1747.56 285,1743.76 C288.04,1739.97 291.13,1736.39 294.52,1732.74 C298.11,1728.89 302.07,1724.94 306,1721.26 C309.9,1717.62 313.95,1714.09 318,1710.76 C321.95,1707.51 326.03,1704.6 330,1701.5 C333.94,1698.42 338.03,1695.49 341.74,1692.24 C345.38,1689.04 348.86,1685.56 352.06,1682.17 C355.09,1678.98 357.69,1675.73 360.5,1672.5 L360.5,1672.5 C361.7,1676.99 362.86,1681.28 364.09,1685.96 C365.42,1691.06 366.57,1696.88 368.18,1701.95 C369.68,1706.71 371.36,1710.98 373.35,1715.53 C375.45,1720.32 377.8,1725.27 380.52,1730 C383.33,1734.87 386.64,1739.91 390,1744.3 C393.16,1748.42 396.56,1752.18 400,1755.65 C403.24,1758.93 406.59,1761.96 410,1764.65 C413.21,1767.19 416.54,1769.65 419.82,1771.44 C422.76,1773.04 425.83,1774.44 428.65,1775.12 C431.06,1775.7 433.45,1775.72 435.6,1775.66 C437.46,1775.62 439.12,1775.55 440.8,1775 C442.59,1774.42 444.37,1773.48 445.98,1772.15 C447.88,1770.6 449.58,1768.27 451.22,1765.94 C453.05,1763.34 454.73,1760.06 456.31,1757.19 C457.79,1754.5 459.16,1751.63 460.42,1749.25 C461.46,1747.28 462.34,1745.68 463.3,1743.9 L463.3,1743.9 C463.86,1745.41 464.42,1746.72 464.99,1748.42 C465.71,1750.57 466.27,1753.4 467.18,1755.81 C468.09,1758.24 469.01,1760.85 470.49,1762.95 C471.94,1765.02 473.87,1766.86 475.94,1768.32 C478.05,1769.8 480.74,1771.03 483.07,1771.74 C485.11,1772.37 486.93,1772.61 489.1,1772.62 C491.65,1772.65 495.08,1772.54 497.4,1771.55 C499.45,1770.67 501.13,1768.99 502.51,1767.43 C503.8,1765.97 504.69,1764.13 505.54,1762.56 C506.28,1761.2 506.78,1759.92 507.4,1758.6 L507.4,1758.6 C508.02,1760.14 508.45,1761.78 509.26,1763.21 C510.08,1764.66 511.06,1766.1 512.29,1767.24 C513.55,1768.41 515.09,1769.28 516.77,1770.1 C518.67,1771.01 521.06,1771.57 523.2,1772.3" fill="none" stroke="#000" stroke-width="3" stroke-linejoin="round" stroke-linecap="round" />
<path d="M228.6,1329 C228.64,1419.16 228.62,1527.87 228.72,1599.49 C228.79,1646.67 228.56,1684.41 229.01,1716.88 C229.33,1739.89 229.44,1760.31 230.51,1775.86 C231.22,1786.09 231.89,1794.31 233.38,1801.21 C234.45,1806.16 235.08,1810.91 237.39,1813.66 C239.25,1815.87 241.81,1816.89 244.84,1817.59 C248.91,1818.52 254.7,1816.94 260.02,1817.07 C265.94,1817.22 272.5,1817.95 278.74,1818.64 C285,1819.34 291.16,1820.49 297.52,1821.24 C304.07,1822 310.95,1822.45 317.48,1823.14 C323.77,1823.8 330.05,1824.55 336,1825.28 C341.55,1825.97 347.51,1826.67 352.07,1827.38 C355.49,1827.91 358.02,1828.46 361,1829 L361,1829 C361.12,1807.94 360.88,1783.87 361.35,1765.83 C361.7,1752.28 362.23,1740.2 363,1730.28 C363.55,1723.09 364.22,1716.98 365,1711.75 C365.58,1707.86 366.25,1704.93 366.91,1701.65 C367.54,1698.53 367.99,1695.52 368.85,1692.52 C369.71,1689.5 371,1686.88 372.09,1683.6 C373.39,1679.67 374.7,1674.83 376,1670.53 C377.28,1666.3 378.65,1662.14 379.82,1658 C380.97,1653.97 381.94,1650 383,1646 C384.06,1642 385.03,1637.96 386.17,1634 C387.31,1630.08 388.66,1626.12 389.82,1622.35 C390.93,1618.8 391.95,1615.39 393,1612 C394.01,1608.73 394.98,1605.49 396,1602.35 C396.98,1599.32 398.02,1596.6 399,1593.48 C400.08,1590.02 401.07,1586.33 402.18,1582.47 C403.4,1578.21 404.71,1573.55 406,1569 C407.32,1564.34 408.73,1559.58 410,1554.82 C411.28,1550.03 412.6,1545.08 413.65,1540.35 C414.64,1535.87 415.3,1531.49 416.18,1527.18 C417.03,1522.99 418.03,1519.03 418.83,1514.82 C419.65,1510.47 420.33,1506.1 421,1501.47 C421.72,1496.51 422.33,1491.14 423,1486 C423.66,1480.89 424.3,1475.41 425,1470.7 C425.6,1466.64 426.22,1462.47 426.88,1459.4 C427.34,1457.26 427.83,1455.8 428.3,1454 L428.3,1454 C428.41,1497.07 428.35,1546.96 428.64,1583.2 C428.85,1609.53 429.14,1630.16 429.55,1651.4 C429.91,1670.02 430.29,1688.13 430.87,1703.8 C431.34,1716.56 431.79,1728.86 432.55,1738.5 C433.1,1745.42 433.81,1750.62 434.5,1756.3 C435.14,1761.53 435.74,1766.53 436.54,1771.35 C437.27,1775.83 437.86,1780.44 439.05,1784.28 C440.07,1787.56 441.56,1790.15 442.88,1793.09 C444.22,1796.06 445.59,1799.07 447.02,1802.01 C448.43,1804.91 449.78,1807.79 451.39,1810.6 C453.03,1813.46 454.83,1816.25 456.8,1819.02 C458.85,1821.89 461.27,1824.67 463.5,1827.5 L463.5,1827.5 C463.68,1792.36 463.54,1750.85 464.05,1722.07 C464.39,1702.1 464.86,1686.03 465.55,1671.35 C466.09,1660.05 466.8,1650.74 467.5,1641.4 C468.11,1633.19 468.79,1625.67 469.45,1618.26 C470.05,1611.42 470.61,1604.76 471.27,1598.51 C471.87,1592.87 472.6,1587.85 473.21,1582.43 C473.84,1576.9 474.37,1571.37 474.99,1565.63 C475.63,1559.61 476.3,1553.24 477,1547.1 C477.69,1541.03 478.38,1534.78 479.15,1529.02 C479.86,1523.73 480.73,1518.95 481.43,1513.83 C482.14,1508.6 482.82,1503.4 483.38,1497.96 C483.97,1492.23 484.31,1485.75 484.85,1480.29 C485.33,1475.54 485.87,1471.4 486.4,1467.02 C486.92,1462.71 487.47,1458.47 488,1454.2 L488,1454.2 C488.15,1499.55 488.16,1549.11 488.46,1590.23 C488.71,1624.35 489.03,1656.63 489.52,1683.88 C489.9,1704.98 490.25,1724.28 490.91,1740.05 C491.38,1751.53 491.88,1761.17 492.65,1769.79 C493.24,1776.46 493.72,1781.86 494.75,1787.48 C495.72,1792.72 497.06,1797.76 498.5,1802.48 C499.83,1806.83 501.31,1810.8 502.98,1814.82 C504.64,1818.8 506.66,1822.61 508.5,1826.5 L508.5,1826.5 C508.73,1774.36 508.61,1710.25 509.19,1670.09 C509.55,1644.93 509.96,1625.81 510.69,1608.72 C511.21,1596.43 511.98,1587.04 512.6,1577.06 C513.15,1568.1 513.67,1560.16 514.22,1551.57 C514.77,1542.78 515.27,1533.76 515.89,1524.91 C516.5,1516.13 517.19,1506.96 517.9,1498.67 C518.54,1491.19 519.3,1484.47 519.91,1477.33 C520.53,1470.14 521.04,1462.91 521.6,1455.7" fill="none" stroke="#ff0000" stroke-width="1.5" stroke-linejoin="round" stroke-linecap="round" />
<rect x="229.5" y="1448" width="131" height="421.8" fill="rgb(250,195,160)" fill-opacity="0.39"/>
<rect x="360.5" y="1448" width="68.6" height="423.6" fill="rgb(26,64,128)" fill-opacity="0.39"/>
<rect x="429.1" y="1448" width="32.1" height="421.8" fill="rgb(250,195,160)" fill-opacity="0.39"/>
<rect x="461.2" y="1448" width="26" height="423.6" fill="rgb(26,64,128)" fill-opacity="0.39"/>
<rect x="487.2" y="1448" width="22.6" height="421.8" fill="rgb(250,195,160)" fill-opacity="0.39"/>
<rect x="509.8" y="1448" width="12.8" height="423.6" fill="rgb(26,64,128)" fill-opacity="0.39"/>
<rect x="183.5" y="1329" width="670" height="544.2" fill="none" stroke="#000" stroke-width="3"/>
<line x1="851.3" y1="1328" x2="851.3" y2="1874.2" stroke="#ff0000" stroke-width="2" stroke-linecap="butt"/>
<text transform="translate(171.8,1840.6) scale(0.97,1)" font-size="47.5" fill="#000" text-anchor="end" >0</text>
<text transform="translate(171.8,1749.66) scale(0.97,1)" font-size="47.5" fill="#000" text-anchor="end" >100</text>
<text transform="translate(171.8,1658.72) scale(0.97,1)" font-size="47.5" fill="#000" text-anchor="end" >200</text>
<text transform="translate(171.8,1567.78) scale(0.97,1)" font-size="47.5" fill="#000" text-anchor="end" >300</text>
<text transform="translate(171.8,1476.84) scale(0.97,1)" font-size="47.5" fill="#000" text-anchor="end" >400</text>
<text transform="translate(171.8,1385.9) scale(0.97,1)" font-size="47.5" fill="#000" text-anchor="end" >500</text>
<text transform="translate(228.1,1920) scale(0.97,1)" font-size="47.5" fill="#000" text-anchor="middle" >0</text>
<text transform="translate(317.33,1920) scale(0.97,1)" font-size="47.5" fill="#000" text-anchor="middle" >10</text>
<text transform="translate(406.56,1920) scale(0.97,1)" font-size="47.5" fill="#000" text-anchor="middle" >20</text>
<text transform="translate(495.79,1920) scale(0.97,1)" font-size="47.5" fill="#000" text-anchor="middle" >30</text>
<text transform="translate(585.02,1920) scale(0.97,1)" font-size="47.5" fill="#000" text-anchor="middle" >40</text>
<text transform="translate(674.25,1920) scale(0.97,1)" font-size="47.5" fill="#000" text-anchor="middle" >50</text>
<text transform="translate(763.48,1920) scale(0.97,1)" font-size="47.5" fill="#000" text-anchor="middle" >60</text>
<text transform="translate(852.71,1920) scale(0.97,1)" font-size="47.5" fill="#000" text-anchor="middle" >70</text>
<text transform="translate(864,1843) scale(0.955,1)" font-size="48.6" fill="#ff0000" text-anchor="start" >0.0</text>
<text transform="translate(864,1759.42) scale(0.955,1)" font-size="48.6" fill="#ff0000" text-anchor="start" >0.2</text>
<text transform="translate(864,1675.84) scale(0.955,1)" font-size="48.6" fill="#ff0000" text-anchor="start" >0.4</text>
<text transform="translate(864,1592.26) scale(0.955,1)" font-size="48.6" fill="#ff0000" text-anchor="start" >0.6</text>
<text transform="translate(864,1508.68) scale(0.955,1)" font-size="48.6" fill="#ff0000" text-anchor="start" >0.8</text>
<text transform="translate(864,1425.1) scale(0.955,1)" font-size="48.6" fill="#ff0000" text-anchor="start" >1.0</text>
<text transform="translate(864,1341.52) scale(0.955,1)" font-size="48.6" fill="#ff0000" text-anchor="start" >1.2</text>
<text x="84" y="1324" font-size="64" fill="#000" text-anchor="start" >(c)</text>
</g>
<text x="233" y="119.4" font-size="33.2" fill="#1a1a1a">500 mAh g<tspan font-size="19.5" dx="1.5" dy="-14">-1</tspan></text>
<line x1="258" y1="140" x2="340.5" y2="140" stroke="#000" stroke-width="3.2" stroke-linecap="butt"/>
<text x="818" y="138.8" font-size="47" fill="#000" text-anchor="end" >LiPAA</text>
<text x="233" y="764.6" font-size="33.2" fill="#1a1a1a">500 mAh g<tspan font-size="19.5" dx="1.5" dy="-14">-1</tspan></text>
<line x1="258" y1="785.6" x2="340.5" y2="785.6" stroke="#000" stroke-width="3.2" stroke-linecap="butt"/>
<text x="818" y="774.3" font-size="47" fill="#000" text-anchor="end" >PVdF</text>
<text x="233" y="1399" font-size="33.2" fill="#1a1a1a">500 mAh g<tspan font-size="19.5" dx="1.5" dy="-14">-1</tspan></text>
<line x1="258" y1="1421.6" x2="340.5" y2="1421.6" stroke="#000" stroke-width="3.2" stroke-linecap="butt"/>
<text x="818" y="1410.3" font-size="47" fill="#000" text-anchor="end" >PVA</text>
<text transform="translate(50.8,971.3) rotate(-90)" font-size="64.5" text-anchor="middle" fill="#000">Thickness increase / %</text>
<text transform="translate(996.5,1244.6) rotate(-90)" font-size="59.3" fill="#ff0000">Potential / V vs. Li/Li<tspan font-size="34" dy="-30.5">+</tspan></text>
<text x="518" y="2011" font-size="60" text-anchor="middle" fill="#000">Run time / h</text>

<defs>
<filter id="paper" x="0" y="0" width="100%" height="100%">
<feTurbulence type="fractalNoise" baseFrequency="0.2" numOctaves="3" seed="7"/>
<feColorMatrix type="matrix" values="0 0 0 0 0.5  0 0 0 0 0.5  0 0 0 0 0.48  0 0 0 -1.4 0.85"/>
<feComposite in2="SourceGraphic" operator="in"/>
</filter>
<filter id="speck" x="0" y="0" width="100%" height="100%">
<feTurbulence type="fractalNoise" baseFrequency="0.4" numOctaves="2" seed="3"/>
<feColorMatrix type="matrix" values="0 0 0 0 0.55  0 0 0 0 0.5  0 0 0 0 0.46  0 0 0 -1.6 0.95"/>
<feComposite in2="SourceGraphic" operator="in"/>
</filter>
<clipPath id="clipb"><circle cx="716.8" cy="1092" r="32.5"/></clipPath>
<clipPath id="clipc"><circle cx="717" cy="1718.6" r="43"/></clipPath>
<radialGradient id="discb" cx="0.52" cy="0.5" r="0.52">
<stop offset="0" stop-color="#7a746a"/><stop offset="0.65" stop-color="#686258"/><stop offset="0.9" stop-color="#4c4640"/><stop offset="1" stop-color="#3c3731"/>
</radialGradient>
<linearGradient id="bgb" x1="0" y1="0" x2="1" y2="1">
<stop offset="0" stop-color="#e5e4df"/><stop offset="1" stop-color="#dfdfda"/>
</linearGradient>
<linearGradient id="bgc" x1="0" y1="0" x2="0" y2="1">
<stop offset="0" stop-color="#e9e8e6"/><stop offset="0.45" stop-color="#e3e4e8"/><stop offset="1" stop-color="#dfe0e5"/>
</linearGradient>
<linearGradient id="pick" x1="0" y1="0" x2="0" y2="1">
<stop offset="0" stop-color="#f3e8c8"/><stop offset="0.6" stop-color="#ead9ad"/><stop offset="1" stop-color="#cdb98a"/>
</linearGradient>
</defs>
<rect x="612" y="1001" width="213" height="212" fill="url(#bgb)"/>
<rect x="612" y="1001" width="213" height="212" fill="#000" filter="url(#paper)" opacity="0.5"/>
<circle cx="716.8" cy="1092" r="32.5" fill="url(#discb)"/>
<rect x="684" y="1059" width="66" height="66" fill="#000" filter="url(#speck)" opacity="0.35" clip-path="url(#clipb)"/>
<circle cx="716.8" cy="1092" r="31" fill="none" stroke="#3e3832" stroke-width="3" opacity="0.6"/>
<path d="M 689.1 1108.0 L 690.3 1109.9 L 691.6 1111.7 L 693.0 1113.4 L 694.6 1115.0 L 696.2 1116.5 L 698.0 1117.9 L 699.8 1119.1 L 701.8 1120.3 L 703.8 1121.2 L 705.9 1122.1 L 708.0 1122.8 L 710.1 1123.3 L 712.3 1123.7 L 714.6 1123.9 L 716.8 1124.0 L 719.0 1123.9 L 721.3 1123.7 L 723.5 1123.3 L 725.6 1122.8 L 727.7 1122.1 L 729.8 1121.2 L 731.8 1120.3 L 731.5 1119.7 L 729.9 1120.2 L 728.4 1120.6 L 726.8 1121.0 L 725.2 1121.3 L 723.6 1121.6 L 722.0 1121.7 L 720.5 1121.8 L 718.9 1121.6 L 717.3 1120.8 L 715.9 1119.2 L 714.5 1118.1 L 713.0 1118.8 L 711.4 1120.0 L 709.7 1120.5 L 708.2 1120.3 L 706.7 1119.8 L 705.2 1119.3 L 703.8 1118.7 L 702.4 1118.0 L 701.0 1117.3 L 699.6 1116.5 L 698.3 1115.7 L 697.0 1114.8 L 695.8 1113.8 L 694.5 1112.8 L 693.3 1111.7 L 692.2 1110.5 L 691.1 1109.3 L 690.0 1108.1 Z" fill="#f2e6c4"/>
<path d="M 689 1131 Q 698 1137 709 1137.5 Q 720 1138 728.5 1134.5" fill="none" stroke="#3a3536" stroke-width="4" stroke-linecap="round"/>
<path d="M 706 1136 Q 710 1131 714 1135" fill="none" stroke="#4a4444" stroke-width="3"/>
<rect x="614" y="1614" width="211" height="224" fill="url(#bgc)"/>
<rect x="614" y="1614" width="211" height="224" fill="#000" filter="url(#paper)" opacity="0.3"/>
<circle cx="717" cy="1718.6" r="43" fill="#3b3230"/>
<rect x="674" y="1675" width="86" height="87" fill="#000" filter="url(#speck)" opacity="0.55" clip-path="url(#clipc)"/>
<polygon points="753.4,1716.8 824.6,1734.5 824.6,1752.5 753.4,1719.2" fill="url(#pick)"/>

</g></svg>
</body></html>
